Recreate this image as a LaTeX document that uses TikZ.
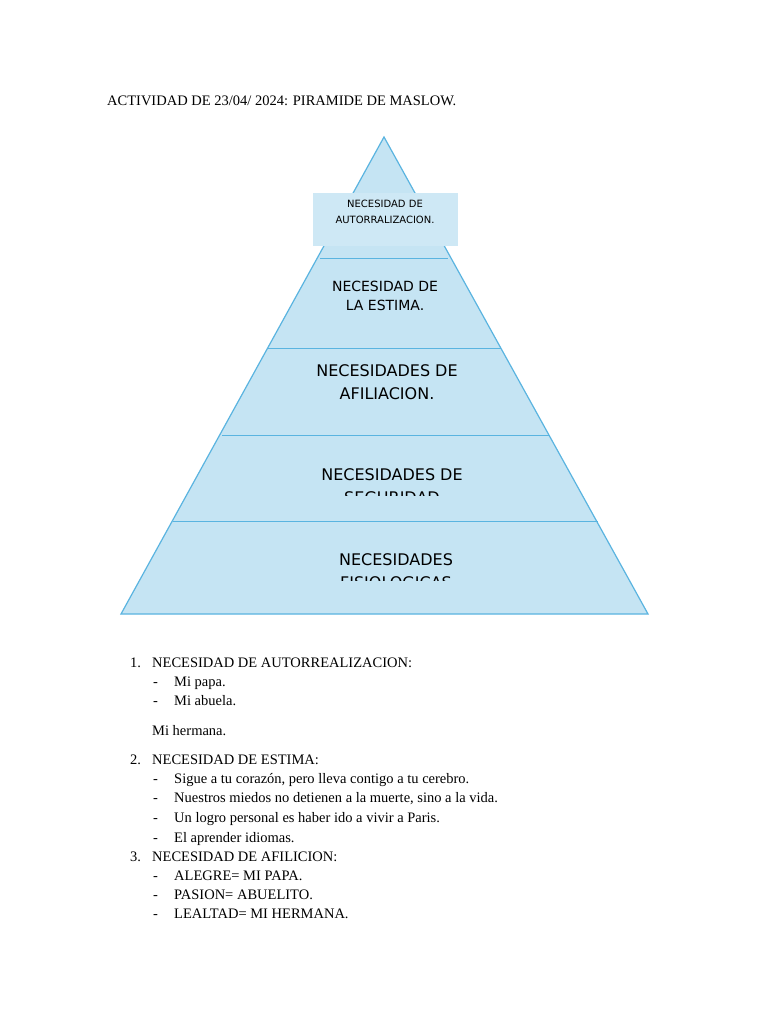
\documentclass[tikz,border=0pt]{standalone}
\usepackage{fontspec}
\setmainfont{Liberation Serif}
\newfontfamily\dv{DejaVu Sans}
\definecolor{pfill}{RGB}{197,228,243}
\definecolor{pline}{RGB}{90,180,224}
\begin{document}
\begin{tikzpicture}[x=1pt,y=-1pt,
  body/.style={anchor=base west,inner sep=0,font=\fontsize{14.5}{17}\selectfont},
  lvl/.style args={#1/#2}{align=center,inner sep=0,font=\dv\fontsize{#1}{#2}\selectfont}]
\useasboundingbox (0,0) rectangle (768,1024);
\fill[white] (0,0) rectangle (768,1024);
\node[body] (title) at (107,106) {ACTIVIDAD DE 23/04/ 2024: PIRAMIDE DE MASLOW.};
\draw[pline,fill=pfill,line width=1.2pt] (384,137) coordinate (apex) -- (648,614) coordinate (br) -- (121,614) coordinate (bl) -- cycle;
\draw[pline,line width=0.8pt] (320,258) -- (448,258);
\draw[pline,line width=0.8pt] (268,348) -- (501,348);
\draw[pline,line width=0.8pt] (222,435) -- (549,435);
\draw[pline,line width=0.8pt] (173,521) -- (598,521);
\fill[pfill!85!white] (313,193) rectangle (458,246);
\node[lvl=10/16] (l1) at (385,212) {NECESIDAD DE\\AUTORRALIZACION.};
\node[lvl=14/19] (l2) at (385,296) {NECESIDAD DE\\LA ESTIMA.};
\node[lvl=16/23] (l3) at (387,382) {NECESIDADES DE\\AFILIACION.};
\begin{scope}
\clip (250,460) rectangle (520,495);
\node[lvl=16/23] (l4) at (392,486) {NECESIDADES DE\\SEGURIDAD};
\end{scope}
\begin{scope}
\clip (250,545) rectangle (520,580);
\node[lvl=16/23] (l5) at (396,571) {NECESIDADES\\FISIOLOGICAS};
\end{scope}
\node[body] at (130,667) {1.};
\node[body] at (152,667) {NECESIDAD DE AUTORREALIZACION:};
\node[body] at (153,686) {-}; \node[body] at (174,686) {Mi papa.};
\node[body] at (153,705) {-}; \node[body] at (174,705) {Mi abuela.};
\node[body] at (152,735) {Mi hermana.};
\node[body] at (130,764) {2.};
\node[body] at (152,764) {NECESIDAD DE ESTIMA:};
\node[body] at (153,783) {-}; \node[body] at (174,783) {Sigue a tu corazón, pero lleva contigo a tu cerebro.};
\node[body] at (153,802) {-}; \node[body] at (174,802) {Nuestros miedos no detienen a la muerte, sino a la vida.};
\node[body] at (153,822) {-}; \node[body] at (174,822) {Un logro personal es haber ido a vivir a Paris.};
\node[body] at (153,842) {-}; \node[body] at (174,842) {El aprender idiomas.};
\node[body] at (130,861) {3.};
\node[body] at (152,861) {NECESIDAD DE AFILICION:};
\node[body] at (153,880) {-}; \node[body] at (174,880) {ALEGRE= MI PAPA.};
\node[body] at (153,899) {-}; \node[body] at (174,899) {PASION= ABUELITO.};
\node[body] at (153,918) {-}; \node[body] at (174,918) {LEALTAD= MI HERMANA.};
\end{tikzpicture}
\end{document}
